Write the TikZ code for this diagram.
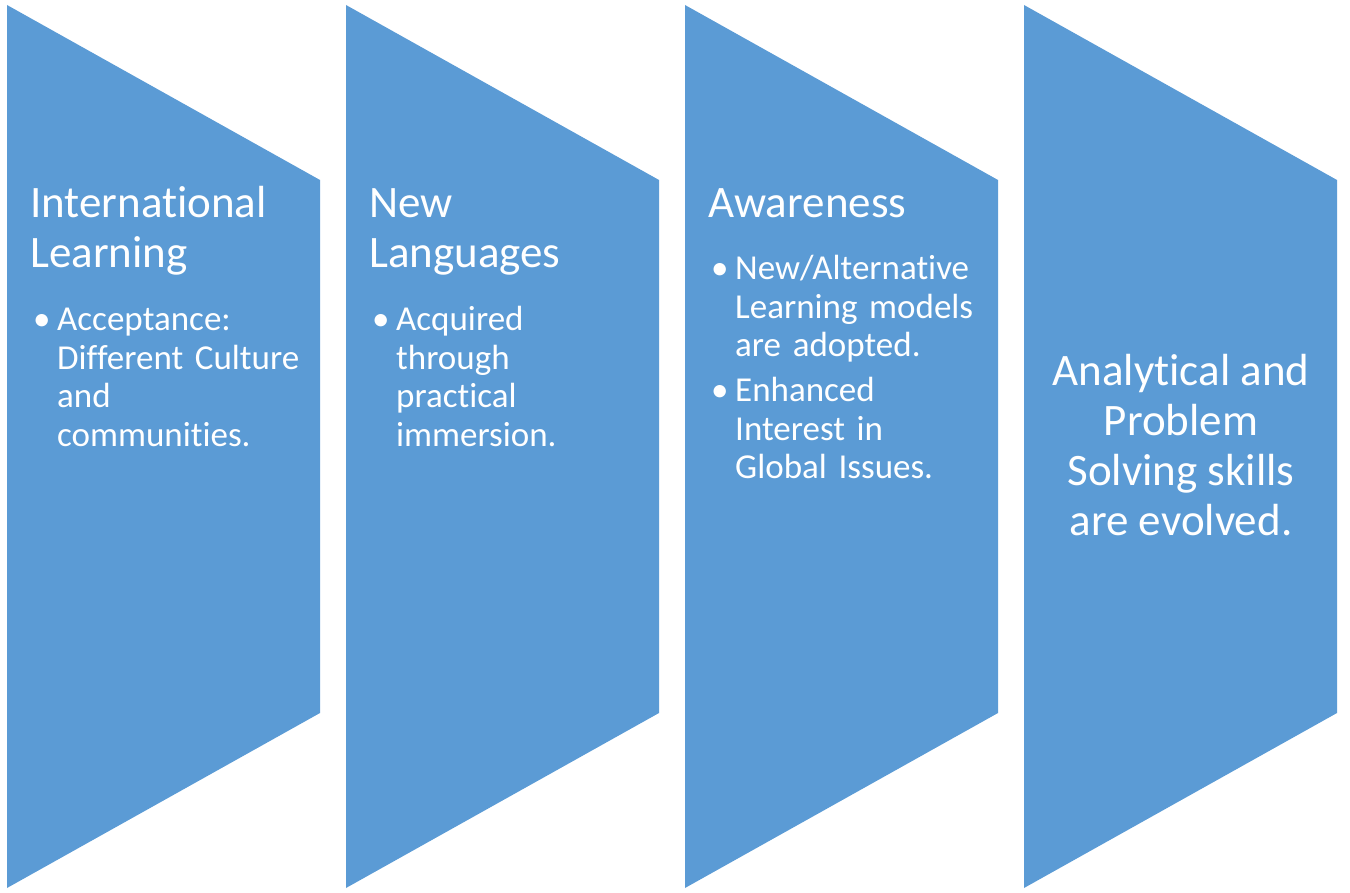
\documentclass[tikz,border=0pt]{standalone}
\usepackage{fontspec}
\setmainfont{Carlito}[Ligatures=NoCommon]
\usetikzlibrary{positioning}
\definecolor{stageblue}{HTML}{5B9BD5}
\newcommand{\bul}[1]{\noindent\makebox[27pt][l]{\hspace{3pt}\textbullet}\parbox[t]{270pt}{#1}\par}

\begin{document}
\begin{tikzpicture}[x=1pt, y=-1pt,
    stage/.style={fill=stageblue},
    heading/.style={text=white, inner sep=0pt, text width=300pt, align=left,
      font=\fontsize{45}{49.5}\selectfont},
    points/.style={text=white, inner sep=0pt, text width=300pt,
      font=\fontsize{35}{38.5}\selectfont}]
  \useasboundingbox (0,0) rectangle (1350,893);

  % the four stages
  \fill[stage] (7,5) -- (320,180) -- (320,713) -- (7,888) -- cycle;
  \fill[stage] (346,5) -- (659,180) -- (659,713) -- (346,888) -- cycle;
  \fill[stage] (685,5) -- (998,180) -- (998,713) -- (685,888) -- cycle;
  \fill[stage] (1024,5) -- (1337,180) -- (1337,713) -- (1024,888) -- cycle;

  % stage 1
  \node[heading, anchor=base west] (intl) at (30,218) {International\\Learning};
  \node[points, anchor=base west] (intlpts) at (30,331)
    {\bul{Acceptance:\\Different Culture\\and\\communities.}};

  % stage 2
  \node[heading, anchor=base west] (lang) at (369,218) {New\\Languages};
  \node[points, anchor=base west] (langpts) at (369,331)
    {\bul{Acquired\\through\\practical\\immersion.}};

  % stage 3
  \node[heading, anchor=base west] (aware) at (708,218) {Awareness};
  \node[points, anchor=base west] (awarepts) at (708,280)
    {\bul{New/Alternative\\Learning models\\are adopted.}\vspace{14pt}%
     \bul{Enhanced\\Interest in\\Global Issues.}};

  % stage 4
  \node[text=white, inner sep=0pt, align=center, font=\fontsize{45}{50}\selectfont]
    (skills) at (1181,445) {Analytical and\\Problem\\Solving skills\\are evolved.};
\end{tikzpicture}
\end{document}
